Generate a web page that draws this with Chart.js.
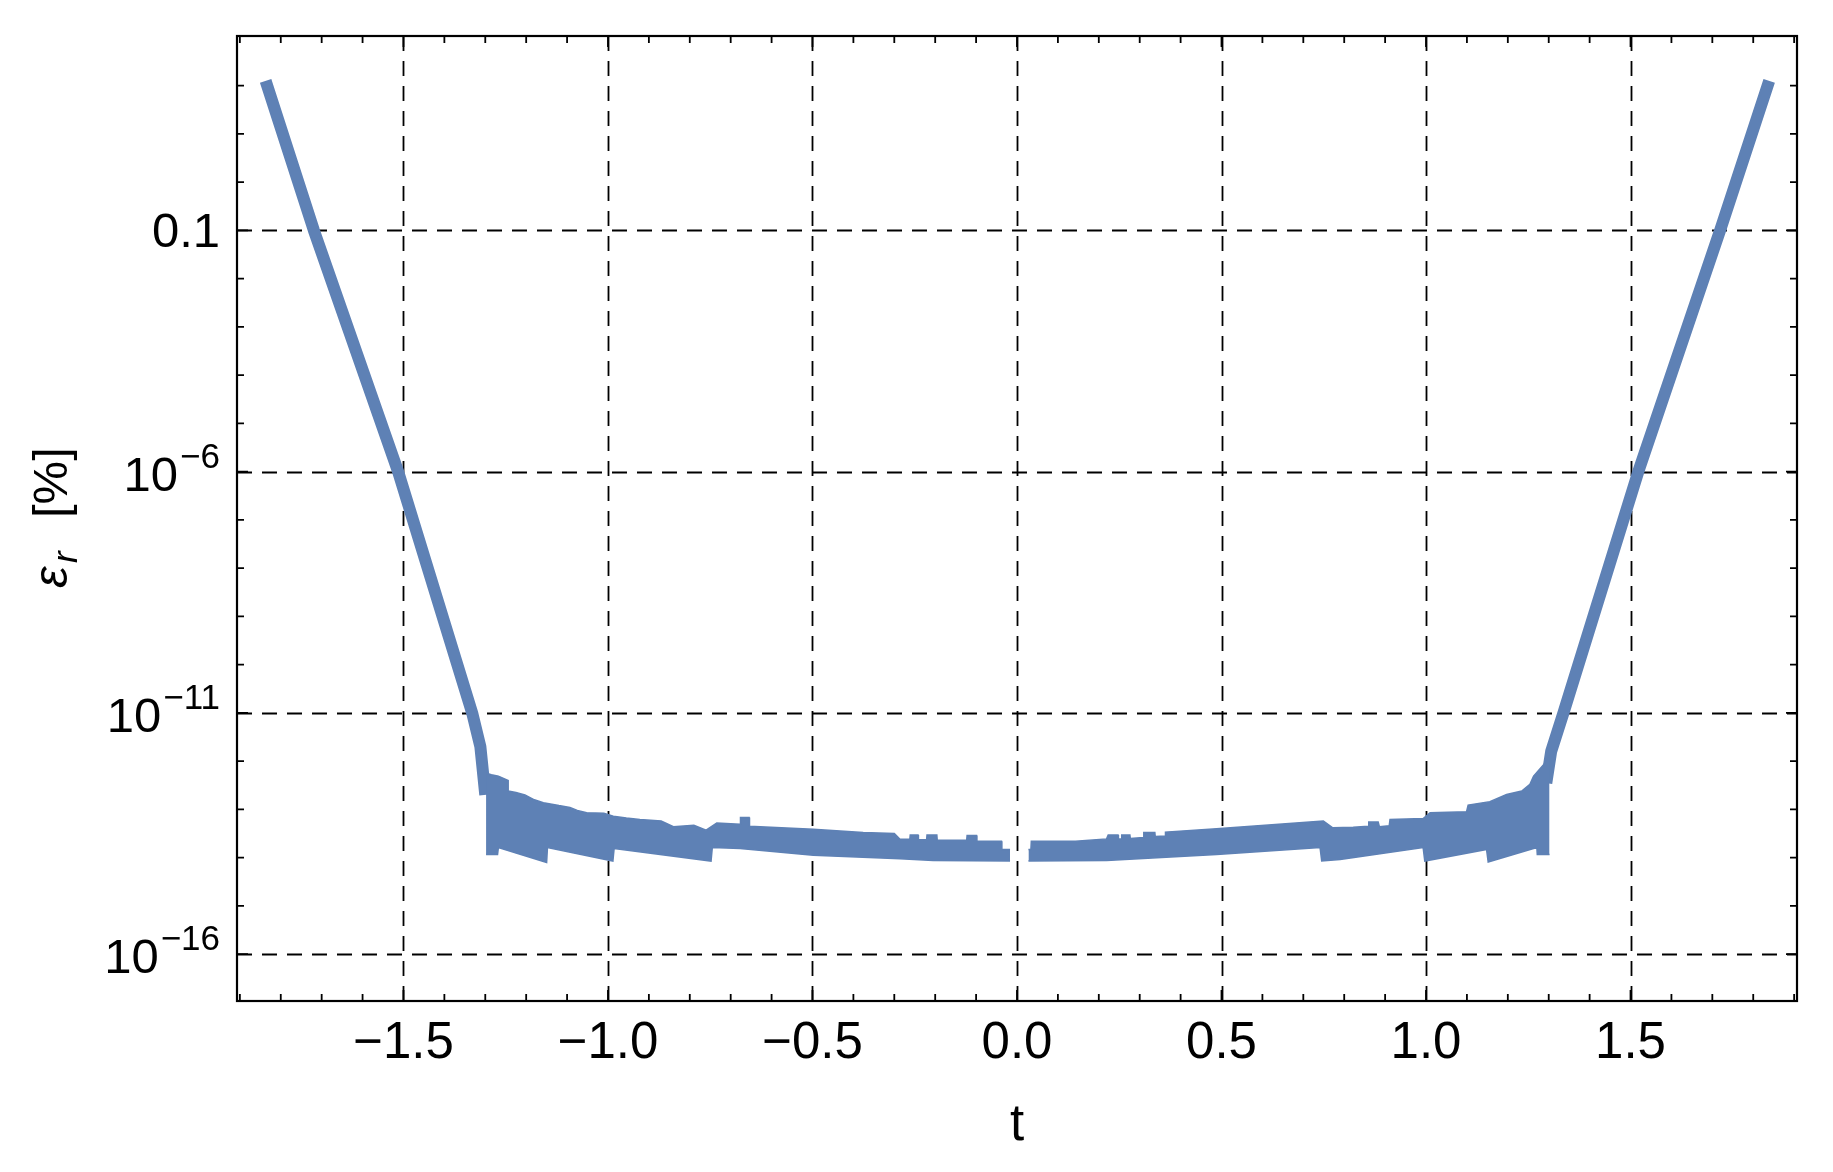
<!DOCTYPE html>
<html>
<head>
<meta charset="utf-8">
<script src="https://cdn.jsdelivr.net/npm/chart.js@4/dist/chart.umd.min.js"></script>
<style>
  html, body { margin: 0; padding: 0; background: #fff; }
  #wrap { width: 1833px; height: 1172px; position: relative; }
</style>
</head>
<body>
<div id="wrap"><canvas id="chart"></canvas></div>
<script>
// steep branches (centre line of the thick curve)
const leftSteepT = [-1.837, -1.719, -1.513, -1.332, -1.312, -1.300];
const leftSteepY = [126, 0.1, 1e-6, 1e-11, 2.0e-12, 2.0e-13];
const rightSteepT = [1.294, 1.306, 1.336, 1.519, 1.719, 1.839];
const rightSteepY = [3.5e-13, 1.6e-12, 1e-11, 1e-6, 0.1, 126];

// noisy floor, left half: upper and lower edge of the band
const upperLeftT = [-1.298, -1.285, -1.268, -1.244, -1.244, -1.225, -1.203, -1.180, -1.158, -1.120,
  -1.093, -1.075, -1.052, -1.010, -0.987, -0.955, -0.922, -0.870, -0.840, -0.790, -0.760, -0.734,
  -0.677, -0.676, -0.655, -0.654, -0.498, -0.376, -0.300, -0.286, -0.262, -0.261, -0.242, -0.241,
  -0.221, -0.220, -0.196, -0.195, -0.123, -0.122, -0.099, -0.098, -0.038, -0.037, -0.017];
const upperLeftY = [5.62e-13, 5.25e-13, 4.90e-13, 3.98e-13, 2.40e-13, 2.24e-13, 2.00e-13, 1.58e-13, 1.38e-13, 1.20e-13,
  1.10e-13, 9.55e-14, 8.51e-14, 8.32e-14, 7.24e-14, 6.61e-14, 6.17e-14, 5.75e-14, 4.37e-14, 4.68e-14, 3.72e-14, 5.25e-14,
  4.90e-14, 6.76e-14, 6.76e-14, 4.47e-14, 3.89e-14, 3.31e-14, 3.16e-14, 2.40e-14, 2.40e-14, 2.95e-14, 2.95e-14, 2.34e-14,
  2.34e-14, 2.95e-14, 2.95e-14, 2.29e-14, 2.29e-14, 2.88e-14, 2.88e-14, 2.19e-14, 2.19e-14, 1.48e-14, 1.48e-14];
const lowerLeftT = [-1.298, -1.270, -1.268, -1.150, -1.148, -0.988, -0.985, -0.748, -0.745, -0.677,
  -0.498, -0.286, -0.205, -0.017];
const lowerLeftY = [1.17e-14, 1.17e-14, 1.62e-14, 7.94e-15, 1.62e-14, 8.51e-15, 1.55e-14, 8.51e-15, 1.62e-14, 1.55e-14,
  1.12e-14, 9.55e-15, 8.71e-15, 8.51e-15];

// noisy floor, right half
const upperRightT = [0.028, 0.034, 0.035, 0.143, 0.219, 0.223, 0.247, 0.248, 0.255, 0.256, 0.276, 0.277,
  0.309, 0.310, 0.337, 0.338, 0.362, 0.363, 0.488, 0.749, 0.772, 0.822, 0.859, 0.860, 0.883, 0.886,
  0.910, 0.912, 0.993, 1.010, 1.099, 1.103, 1.156, 1.197, 1.234, 1.254, 1.263, 1.290, 1.302];
const upperRightY = [1.48e-14, 1.48e-14, 2.19e-14, 2.19e-14, 2.45e-14, 2.95e-14, 2.95e-14, 2.45e-14, 2.45e-14, 2.95e-14, 2.95e-14, 2.51e-14,
  2.63e-14, 3.31e-14, 3.31e-14, 2.75e-14, 2.82e-14, 3.39e-14, 3.98e-14, 5.75e-14, 4.17e-14, 4.27e-14, 4.47e-14, 5.50e-14, 5.50e-14, 4.37e-14,
  4.57e-14, 6.17e-14, 6.46e-14, 8.51e-14, 8.91e-14, 1.23e-13, 1.45e-13, 2.04e-13, 2.40e-13, 3.31e-13, 4.90e-13, 8.91e-13, 1.41e-12];
const lowerRightT = [0.028, 0.219, 0.488, 0.741, 0.745, 0.790, 0.993, 0.997, 1.148, 1.152, 1.271, 1.272, 1.302];
const lowerRightY = [8.51e-15, 8.71e-15, 1.17e-14, 1.62e-14, 8.51e-15, 9.12e-15, 1.62e-14, 8.51e-15, 1.48e-14, 8.13e-15,
  1.62e-14, 1.17e-14, 1.17e-14];

// axes
const xGridValues = [-1.5, -1.0, -0.5, 0.0, 0.5, 1.0, 1.5];
const xTickLabels = ['\u22121.5', '\u22121.0', '\u22120.5', '0.0', '0.5', '1.0', '1.5'];
const xMinorTicks = [-1.9, -1.8, -1.7, -1.6, -1.4, -1.3, -1.2, -1.1, -0.9, -0.8, -0.7, -0.6, -0.4, -0.3,
  -0.2, -0.1, 0.1, 0.2, 0.3, 0.4, 0.6, 0.7, 0.8, 0.9, 1.1, 1.2, 1.3, 1.4, 1.6, 1.7, 1.8, 1.9];
const yGridValues = [0.1, 1e-6, 1e-11, 1e-16];
const yLabelBase = ['0.1', '10', '10', '10'];
const yLabelExp = ['', '\u22126', '\u221211', '\u221216'];
const yMinorTicks = [1e2, 1e1, 1, 1e-2, 1e-3, 1e-4, 1e-5, 1e-7, 1e-8, 1e-9, 1e-10,
  1e-12, 1e-13, 1e-14, 1e-15];

const blue = '#5e81b5';
const font = "'Liberation Sans', Arial, sans-serif";

function pts(ts, ys) {
  return ts.map((t, i) => ({ x: t, y: ys[i] }));
}

const axesPlugin = {
  id: 'mmaAxes',
  beforeDatasetsDraw(chart) {
    const { ctx, chartArea: a, scales: { x, y } } = chart;
    ctx.save();
    ctx.strokeStyle = '#000';
    ctx.lineWidth = 1.8;
    ctx.setLineDash([15, 10]);
    xGridValues.forEach(v => {
      const px = Math.round(x.getPixelForValue(v)) + 0.5;
      ctx.beginPath();
      ctx.moveTo(px, a.top);
      ctx.lineTo(px, a.bottom);
      ctx.stroke();
    });
    yGridValues.forEach(v => {
      const py = Math.round(y.getPixelForValue(v)) + 0.5;
      ctx.beginPath();
      ctx.moveTo(a.left, py);
      ctx.lineTo(a.right, py);
      ctx.stroke();
    });
    ctx.restore();
  },
  afterDraw(chart) {
    const { ctx, chartArea: a, scales: { x, y } } = chart;
    ctx.save();
    ctx.strokeStyle = '#000';
    ctx.setLineDash([]);

    // ticks pointing inward on all four sides
    ctx.lineWidth = 1.8;
    const tickX = (v, len) => {
      const px = x.getPixelForValue(v);
      ctx.beginPath();
      ctx.moveTo(px, a.bottom); ctx.lineTo(px, a.bottom - len);
      ctx.moveTo(px, a.top); ctx.lineTo(px, a.top + len);
      ctx.stroke();
    };
    const tickY = (v, len) => {
      const py = y.getPixelForValue(v);
      ctx.beginPath();
      ctx.moveTo(a.left, py); ctx.lineTo(a.left + len, py);
      ctx.moveTo(a.right, py); ctx.lineTo(a.right - len, py);
      ctx.stroke();
    };
    xGridValues.forEach(v => tickX(v, 11));
    xMinorTicks.forEach(v => tickX(v, 7));
    yGridValues.forEach(v => tickY(v, 11));
    yMinorTicks.forEach(v => tickY(v, 7));

    // frame
    ctx.lineWidth = 2.2;
    ctx.strokeRect(a.left, a.top, a.right - a.left, a.bottom - a.top);

    // x tick labels and title
    ctx.fillStyle = '#000';
    ctx.textAlign = 'center';
    ctx.textBaseline = 'alphabetic';
    ctx.font = '51px ' + font;
    xGridValues.forEach((v, i) => {
      ctx.fillText(xTickLabels[i], x.getPixelForValue(v), a.bottom + 57);
    });
    ctx.fillText('t', (a.left + a.right) / 2, a.bottom + 139);

    // y tick labels with superscript exponents
    const rightEdge = a.left - 17;
    yGridValues.forEach((v, i) => {
      const py = y.getPixelForValue(v);
      ctx.textAlign = 'right';
      if (yLabelExp[i]) {
        ctx.font = '35px ' + font;
        const ew = ctx.measureText(yLabelExp[i]).width;
        ctx.fillText(yLabelExp[i], rightEdge, py - 4);
        ctx.font = '49px ' + font;
        ctx.fillText(yLabelBase[i], rightEdge - ew - 2, py + 19);
      } else {
        ctx.font = '49px ' + font;
        ctx.fillText(yLabelBase[i], rightEdge, py + 17);
      }
    });

    // y axis title, rotated
    ctx.rotate(-Math.PI / 2);
    ctx.textAlign = 'left';
    ctx.font = 'italic 49px ' + font;
    ctx.fillText('\u03b5', -588, 67);
    ctx.font = 'italic 35px ' + font;
    ctx.fillText('r', -563, 77);
    ctx.font = '49px ' + font;
    ctx.fillText('[%]', -518, 67);
    ctx.restore();
  }
};

const lineStyle = { showLine: true, pointRadius: 0, tension: 0, borderColor: blue, backgroundColor: blue };

new Chart(document.getElementById('chart'), {
  type: 'scatter',
  data: {
    datasets: [
      { ...lineStyle, data: pts(upperLeftT, upperLeftY), borderWidth: 1.5, fill: '+1' },
      { ...lineStyle, data: pts(lowerLeftT, lowerLeftY), borderWidth: 1.5, fill: false },
      { ...lineStyle, data: pts(upperRightT, upperRightY), borderWidth: 1.5, fill: '+1' },
      { ...lineStyle, data: pts(lowerRightT, lowerRightY), borderWidth: 1.5, fill: false },
      { ...lineStyle, data: pts(leftSteepT, leftSteepY), borderWidth: 12, borderCapStyle: 'butt', borderJoinStyle: 'round', fill: false },
      { ...lineStyle, data: pts(rightSteepT, rightSteepY), borderWidth: 12, borderCapStyle: 'butt', borderJoinStyle: 'round', fill: false }
    ]
  },
  options: {
    responsive: true,
    maintainAspectRatio: false,
    animation: false,
    events: [],
    layout: { padding: { left: 0, right: 36, top: 36, bottom: 0 } },
    plugins: { legend: { display: false }, tooltip: { enabled: false } },
    scales: {
      x: {
        type: 'linear', min: -1.907, max: 1.907,
        grid: { display: false }, border: { display: false }, ticks: { display: false },
        afterFit(s) { s.height = 171; }
      },
      y: {
        type: 'logarithmic', min: 1.07e-17, max: 1.07e3,
        grid: { display: false }, border: { display: false }, ticks: { display: false },
        afterFit(s) { s.width = 237; }
      }
    }
  },
  plugins: [axesPlugin]
});
</script>
</body>
</html>
